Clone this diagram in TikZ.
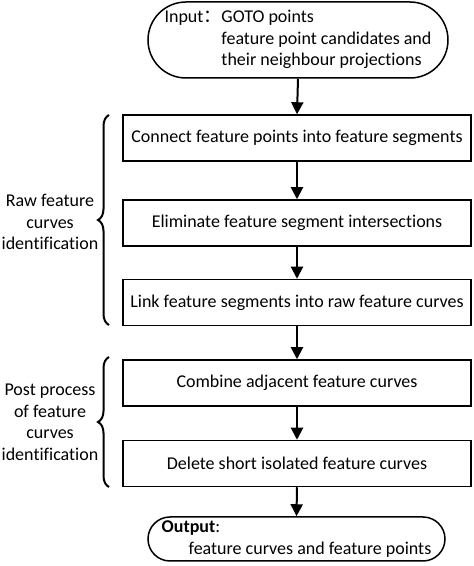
\documentclass[tikz,border=0pt]{standalone}
\usepackage{fontspec}
\setmainfont{Carlito}[Ligatures=NoCommon]
\newfontfamily\cjk{Noto Sans CJK SC}
\usetikzlibrary{arrows.meta,decorations.pathreplacing}
\begin{document}
\begin{tikzpicture}[x=1pt,y=1pt,
  every node/.style={font=\fontsize{18}{21.5}\selectfont},
  stepbox/.style={draw,line width=1.5pt,minimum width=348pt,minimum height=46pt,inner sep=0pt},
  term/.style={draw,line width=1.5pt,rounded corners=#1,inner sep=0pt},
  flow/.style={line width=2pt,-{Triangle[length=12pt,width=12pt]}},
  grp/.style={line width=2pt,decorate,decoration={brace,amplitude=11pt}},
  lab/.style={align=center,inner sep=0pt}]
\useasboundingbox (0,0) rectangle (474,566);
\node[term=38pt,minimum width=300pt,minimum height=76pt] (in) at (298,526)
  {\begin{tabular}{@{}l@{}l@{}}Input{\cjk ：}&GOTO points\\&feature point candidates and\\&their neighbour projections\end{tabular}};
\node[stepbox] (b1) at (297,428) {Connect feature points into feature segments};
\node[stepbox] (b2) at (297,343) {Eliminate feature segment intersections};
\node[stepbox] (b3) at (297,263.5) {Link feature segments into raw feature curves};
\node[stepbox] (b4) at (297,183) {Combine adjacent feature curves};
\node[stepbox] (b5) at (297,102.5) {Delete short isolated feature curves};
\node[term=22pt,minimum width=297pt,minimum height=44pt] (out) at (296.5,27)
  {\begin{tabular}{@{}l@{}}\textbf{Output}:\\\hspace{27pt}feature curves and feature points\end{tabular}};
\draw[flow] (in.south) -- (b1.north);
\draw[flow] (b1) -- (b2);
\draw[flow] (b2) -- (b3);
\draw[flow] (b3) -- (b4);
\draw[flow] (b4) -- (b5);
\draw[flow] (b5.south) -- (out.north);
\coordinate (r1) at (109,241);
\coordinate (r2) at (109,451);
\coordinate (p1) at (109,79);
\coordinate (p2) at (109,209);
\draw[grp] (r1) -- (r2);
\draw[grp] (p1) -- (p2);
\node[lab] (l1) at (50,344) {Raw feature\\curves\\identification};
\node[lab] (l2) at (50,143.5) {Post process\\of feature\\curves\\identification};
\end{tikzpicture}
\end{document}
